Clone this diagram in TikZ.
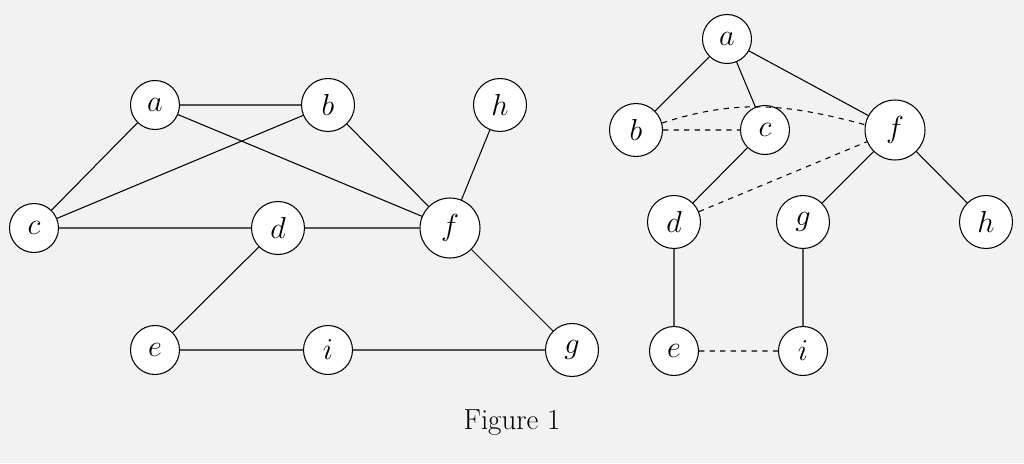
\documentclass[tikz,border=0pt]{standalone}
\begin{document}
\begin{tikzpicture}[x=0.02cm,y=-0.02cm,line width=0.6pt,
  v/.style={circle,draw,fill=white,inner sep=0pt,minimum size=0.98cm,font=\fontsize{16.5}{19}\selectfont},
  big/.style={minimum size=1.2cm},
  mid/.style={minimum size=1.06cm},
  dsh/.style={dashed}]
\fill[fill={rgb,255:red,242;green,242;blue,242}] (0,0) rectangle (1024,463);
\useasboundingbox (0,0) rectangle (1024,463);
% left
\node[v] (a) at (155,105) {$a$};
\node[v,mid] (b) at (328,105) {$b$};
\node[v,mid] (h) at (500,105) {$h$};
\node[v] (c) at (34,228) {$c$};
\node[v,mid] (d) at (278,228) {$d$};
\node[v,big] (f) at (450,228) {$f$};
\node[v] (e) at (155,350) {$e$};
\node[v] (i) at (328,350) {$i$};
\node[v,mid] (g) at (572,350) {$g$};
\draw (a)--(b) (a)--(c) (a)--(f) (b)--(c) (b)--(f) (c)--(d) (d)--(f) (f)--(h) (d)--(e) (e)--(i) (i)--(g) (f)--(g);
% right
\node[v] (a2) at (727,39) {$a$};
\node[v,mid] (b2) at (636,130) {$b$};
\node[v] (c2) at (765,130) {$c$};
\node[v,big] (f2) at (895,130) {$f$};
\node[v,mid] (d2) at (674,222) {$d$};
\node[v,mid] (g2) at (803,222) {$g$};
\node[v,mid] (h2) at (986,222) {$h$};
\node[v] (e2) at (674,351) {$e$};
\node[v] (i2) at (803,351) {$i$};
\draw (a2)--(b2) (a2)--(c2) (a2)--(f2) (c2)--(d2) (f2)--(g2) (f2)--(h2) (d2)--(e2) (g2)--(i2);
\draw[dsh] (b2)--(c2) (d2)--(f2) (e2)--(i2);
\draw[dsh] (b2.15) to[out=18,in=165] (f2.170);
\node[font=\fontsize{16.5}{19}\selectfont] (cap) at (512,423) {Figure 1};
\end{tikzpicture}
\end{document}
